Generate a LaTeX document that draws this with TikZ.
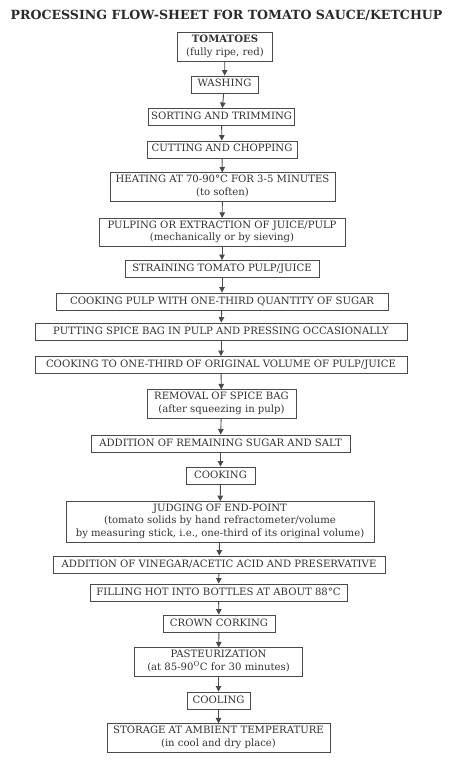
\documentclass[tikz,border=0pt]{standalone}
\usepackage{fontspec}
\setmainfont{DejaVu Serif}
\usepackage{xcolor}
\usepackage{tikz}
\usetikzlibrary{arrows.meta}
\definecolor{Ink}{HTML}{333333}
\definecolor{BoxLine}{HTML}{4A4A4A}
\definecolor{TitleInk}{HTML}{2A2A2A}
\tikzset{
  sheettitle/.style={font=\bfseries\fontsize{12.6}{14}\selectfont,text=TitleInk,inner sep=0pt},
  stepbox/.style={draw=BoxLine,line width=0.9pt,fill=white,align=center,text=Ink,
    font=\fontsize{10.1}{12.5}\selectfont,inner xsep=3pt,inner ysep=2.25pt,
    execute at begin node=\strut,execute at end node=\strut},
  flowarrow/.style={draw=BoxLine,line width=0.9pt,-{Triangle[width=5.5pt,length=5.5pt]}}
}
\begin{document}
\begin{tikzpicture}[x=1pt,y=-1pt]
  \useasboundingbox[fill=white] (0,0) rectangle (455,762);
  \node[sheettitle] (title) at (226.5,15) {PROCESSING FLOW-SHEET FOR TOMATO SAUCE/KETCHUP};

  % steps, top to bottom
  \node[stepbox,minimum width=95pt] (tomatoes) at (225,47) {\textbf{TOMATOES}\\(fully ripe, red)};
  \node[stepbox,minimum width=67pt] (washing) at (224.5,84.5) {WASHING};
  \node[stepbox,minimum width=145pt] (sorting) at (221.5,117) {SORTING AND TRIMMING};
  \node[stepbox,minimum width=150pt] (cutting) at (222,149.5) {CUTTING AND CHOPPING};
  \node[stepbox,minimum width=225pt] (heating) at (222.5,187) {HEATING AT 70-90°C FOR 3-5 MINUTES\\(to soften)};
  \node[stepbox,minimum width=246pt] (pulping) at (222,232.5) {PULPING OR EXTRACTION OF JUICE/PULP\\(mechanically or by sieving)};
  \node[stepbox,minimum width=194pt] (straining) at (222,269) {STRAINING TOMATO PULP/JUICE};
  \node[stepbox,minimum width=332pt] (cookpulp) at (222,301.5) {COOKING PULP WITH ONE-THIRD QUANTITY OF SUGAR};
  \node[stepbox,minimum width=372pt] (spicebag) at (221,331.5) {PUTTING SPICE BAG IN PULP AND PRESSING OCCASIONALLY};
  \node[stepbox,minimum width=372pt] (cookvol) at (221,365) {COOKING TO ONE-THIRD OF ORIGINAL VOLUME OF PULP/JUICE};
  \node[stepbox,minimum width=149pt] (removal) at (221.5,404) {REMOVAL OF SPICE BAG\\(after squeezing in pulp)};
  \node[stepbox,minimum width=259pt] (addsugar) at (220.5,443.5) {ADDITION OF REMAINING SUGAR AND SALT};
  \node[stepbox,minimum width=69pt] (cooking) at (220.5,475.5) {COOKING};
  \node[stepbox,minimum width=308pt] (endpoint) at (220,522) {JUDGING OF END-POINT\\(tomato solids by hand refractometer/volume\\by measuring stick, i.e., one-third of its original volume)};
  \node[stepbox,minimum width=332pt] (vinegar) at (219,564.5) {ADDITION OF VINEGAR/ACETIC ACID AND PRESERVATIVE};
  \node[stepbox,minimum width=257pt] (filling) at (218.5,592.5) {FILLING HOT INTO BOTTLES AT ABOUT 88°C};
  \node[stepbox,minimum width=112pt] (corking) at (219,623.5) {CROWN CORKING};
  \node[stepbox,minimum width=168pt] (pasteur) at (218.5,662) {PASTEURIZATION\\(at 85-90\textsuperscript{O}C for 30 minutes)};
  \node[stepbox,minimum width=63pt] (cooling) at (218.5,700.5) {COOLING};
  \node[stepbox,minimum width=223pt] (storage) at (218.5,738) {STORAGE AT AMBIENT TEMPERATURE\\(in cool and dry place)};

  % connectors
  \draw[flowarrow] (tomatoes) -- (washing);
  \draw[flowarrow] (washing) -- (sorting);
  \draw[flowarrow] (sorting) -- (cutting);
  \draw[flowarrow] (cutting) -- (heating);
  \draw[flowarrow] (heating) -- (pulping);
  \draw[flowarrow] (pulping) -- (straining);
  \draw[flowarrow] (straining) -- (cookpulp);
  \draw[flowarrow] (cookpulp) -- (spicebag);
  \draw[flowarrow] (spicebag) -- (cookvol);
  \draw[flowarrow] (cookvol) -- (removal);
  \draw[flowarrow] (removal) -- (addsugar);
  \draw[flowarrow] (addsugar) -- (cooking);
  \draw[flowarrow] (cooking) -- (endpoint);
  \draw[flowarrow] (endpoint) -- (vinegar);
  \draw[flowarrow] (vinegar) -- (filling);
  \draw[flowarrow] (filling) -- (corking);
  \draw[flowarrow] (corking) -- (pasteur);
  \draw[flowarrow] (pasteur) -- (cooling);
  \draw[flowarrow] (cooling) -- (storage);
\end{tikzpicture}
\end{document}
